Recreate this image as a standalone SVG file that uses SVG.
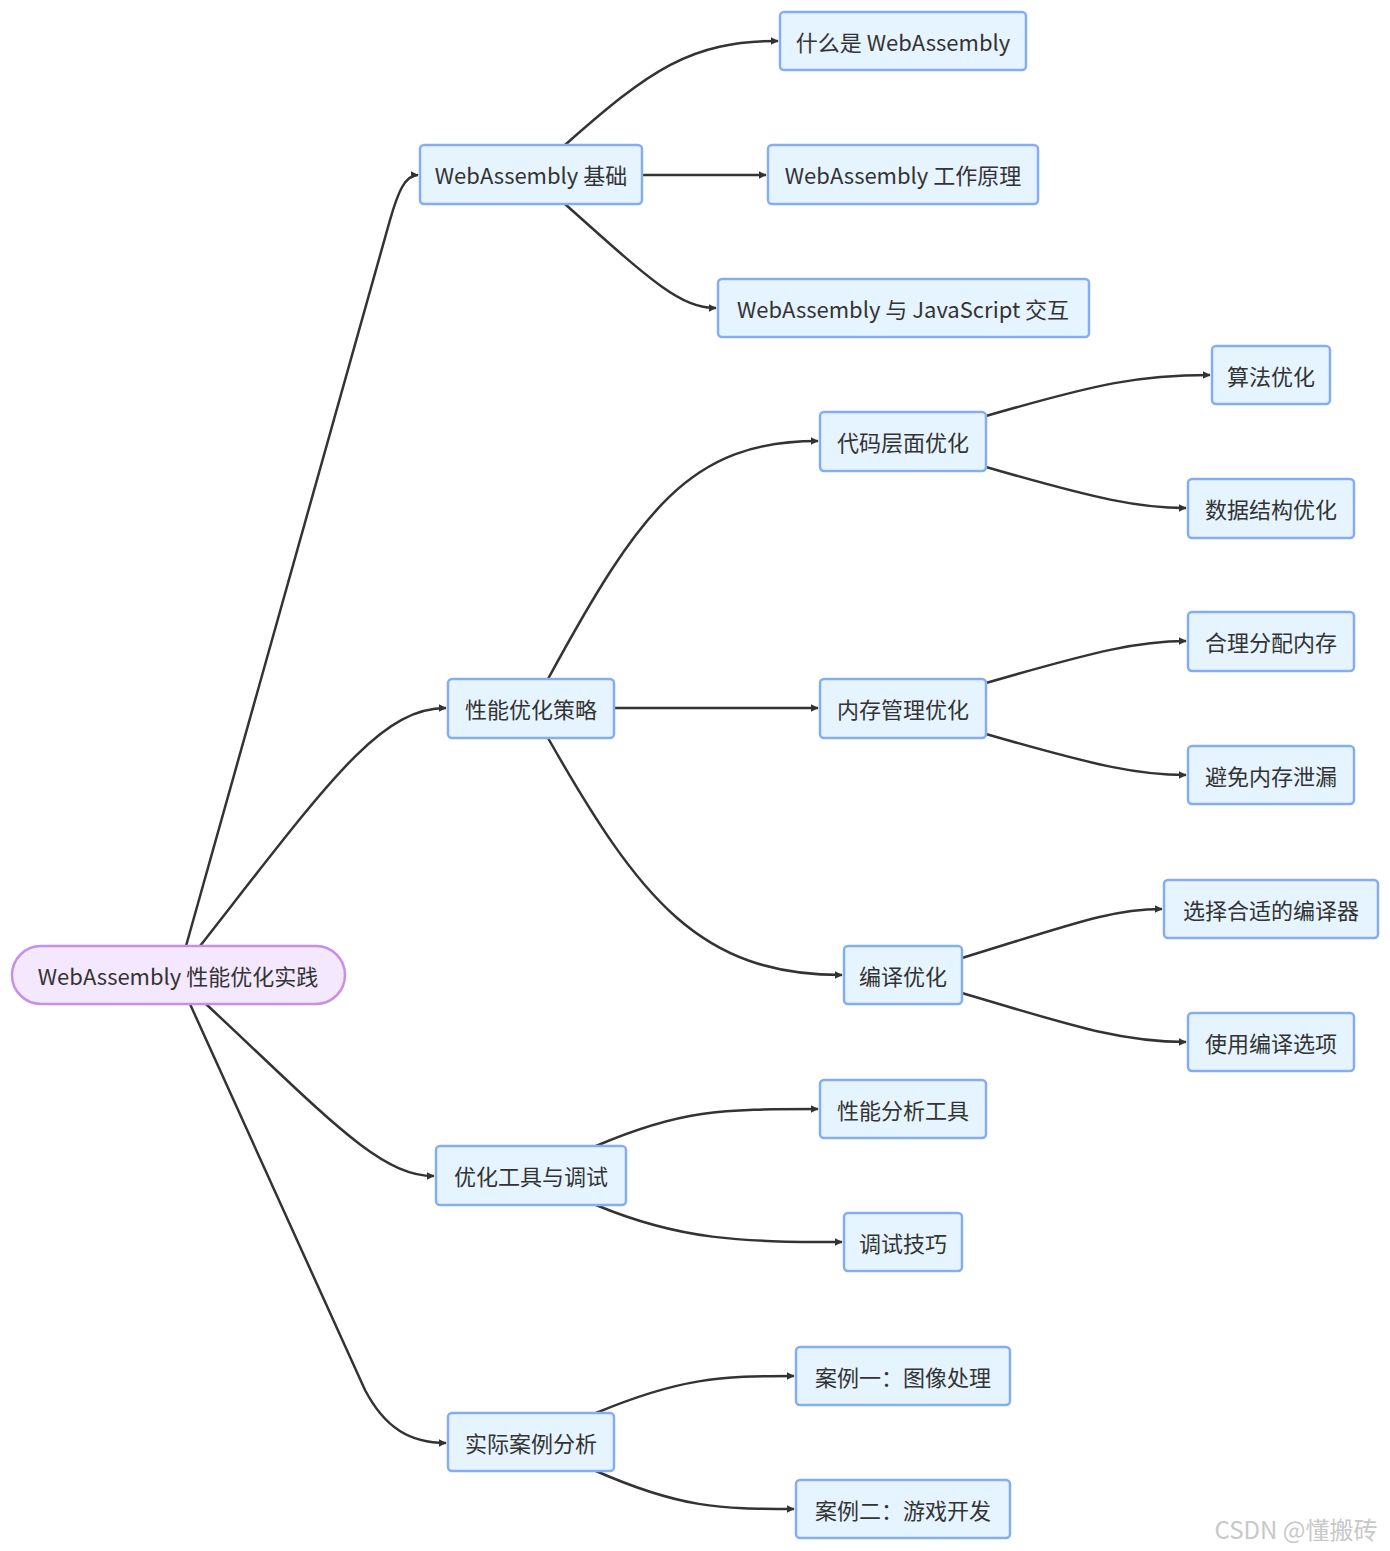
<svg xmlns="http://www.w3.org/2000/svg" width="1390" height="1551" viewBox="0 0 1390 1551">
<defs>
<style>
.n rect{fill:#e6f4ff;stroke:#84adf5;stroke-width:2.5}
.r rect{fill:#f3e8fd;stroke:#c690ea;stroke-width:2.5}
text{font-family:"Noto Sans CJK SC","Noto Sans",sans-serif;font-size:22px;fill:#333;text-anchor:middle;dominant-baseline:central}
.e path{fill:none;stroke:#333;stroke-width:2.5;marker-end:url(#a)}
</style>
<marker id="a" viewBox="0 0 12 12" refX="11" refY="6" markerWidth="8" markerHeight="8" markerUnits="userSpaceOnUse" orient="auto"><path d="M0,0 L12,6 L0,12 z" fill="#333"/></marker>
</defs>
<rect width="1390" height="1551" fill="#fff"/>
<g class="e" id="edges">
<path d="M186,946 L390,220 C398,192 405,175 418,175"/>
<path d="M200,946 C330,780 380,708 446,708"/>
<path d="M206,1004 C330,1120 380,1176 434,1176"/>
<path d="M190,1004 L365,1390 C385,1428 410,1443 446,1443"/>
<path d="M565,145 C650,70 690,41 778,41"/>
<path d="M642,175 L766,175"/>
<path d="M565,204 C650,280 680,308 716,308"/>
<path d="M548,679 C640,510 690,441 818,441"/>
<path d="M614,708 L818,708"/>
<path d="M548,738 C640,900 700,975 842,975"/>
<path d="M986,416 C1100,383 1140,375 1210,375"/>
<path d="M986,467 C1100,500 1140,508 1186,508"/>
<path d="M986,683 C1100,650 1140,641 1186,641"/>
<path d="M986,734 C1100,767 1140,775 1186,775"/>
<path d="M962,958 C1070,925 1110,909 1162,909"/>
<path d="M962,993 C1070,1025 1120,1042 1186,1042"/>
<path d="M596,1146 C680,1110 720,1109 818,1109"/>
<path d="M596,1205 C680,1240 740,1242 842,1242"/>
<path d="M596,1413 C680,1378 720,1376 794,1376"/>
<path d="M596,1471 C680,1508 720,1509 794,1509"/>
</g>
<g class="r" id="root"><rect x="12" y="946" width="333" height="58" rx="29"/><text x="178" y="975">WebAssembly 性能优化实践</text></g>
<g class="n" id="A"><rect x="420" y="145" width="222" height="59" rx="4"/><text x="531" y="174">WebAssembly 基础</text></g>
<g class="n" id="A1"><rect x="780" y="12" width="246" height="58" rx="4"/><text x="903" y="41">什么是 WebAssembly</text></g>
<g class="n" id="A2"><rect x="768" y="145" width="270" height="59" rx="4"/><text x="903" y="174">WebAssembly 工作原理</text></g>
<g class="n" id="A3"><rect x="718" y="279" width="371" height="58" rx="4"/><text x="903" y="308">WebAssembly 与 JavaScript 交互</text></g>
<g class="n" id="B"><rect x="448" y="679" width="166" height="59" rx="4"/><text x="531" y="708">性能优化策略</text></g>
<g class="n" id="B1"><rect x="820" y="412" width="166" height="59" rx="4"/><text x="903" y="441">代码层面优化</text></g>
<g class="n" id="B1a"><rect x="1212" y="346" width="118" height="58" rx="4"/><text x="1271" y="375">算法优化</text></g>
<g class="n" id="B1b"><rect x="1188" y="479" width="166" height="59" rx="4"/><text x="1271" y="508">数据结构优化</text></g>
<g class="n" id="B2"><rect x="820" y="679" width="166" height="59" rx="4"/><text x="903" y="708">内存管理优化</text></g>
<g class="n" id="B2a"><rect x="1188" y="612" width="166" height="59" rx="4"/><text x="1271" y="641">合理分配内存</text></g>
<g class="n" id="B2b"><rect x="1188" y="746" width="166" height="58" rx="4"/><text x="1271" y="775">避免内存泄漏</text></g>
<g class="n" id="B3"><rect x="844" y="946" width="118" height="58" rx="4"/><text x="903" y="975">编译优化</text></g>
<g class="n" id="B3a"><rect x="1164" y="880" width="214" height="58" rx="4"/><text x="1271" y="909">选择合适的编译器</text></g>
<g class="n" id="B3b"><rect x="1188" y="1013" width="166" height="58" rx="4"/><text x="1271" y="1042">使用编译选项</text></g>
<g class="n" id="C"><rect x="436" y="1146" width="190" height="59" rx="4"/><text x="531" y="1175">优化工具与调试</text></g>
<g class="n" id="C1"><rect x="820" y="1080" width="166" height="58" rx="4"/><text x="903" y="1109">性能分析工具</text></g>
<g class="n" id="C2"><rect x="844" y="1213" width="118" height="58" rx="4"/><text x="903" y="1242">调试技巧</text></g>
<g class="n" id="D"><rect x="448" y="1413" width="166" height="58" rx="4"/><text x="531" y="1442">实际案例分析</text></g>
<g class="n" id="D1"><rect x="796" y="1347" width="214" height="58" rx="4"/><text x="903" y="1376">案例一：图像处理</text></g>
<g class="n" id="D2"><rect x="796" y="1480" width="214" height="58" rx="4"/><text x="903" y="1509">案例二：游戏开发</text></g>
<text x="1296" y="1528" style="font-size:24px;fill:#c8c8c8">CSDN @懂搬砖</text>
</svg>
